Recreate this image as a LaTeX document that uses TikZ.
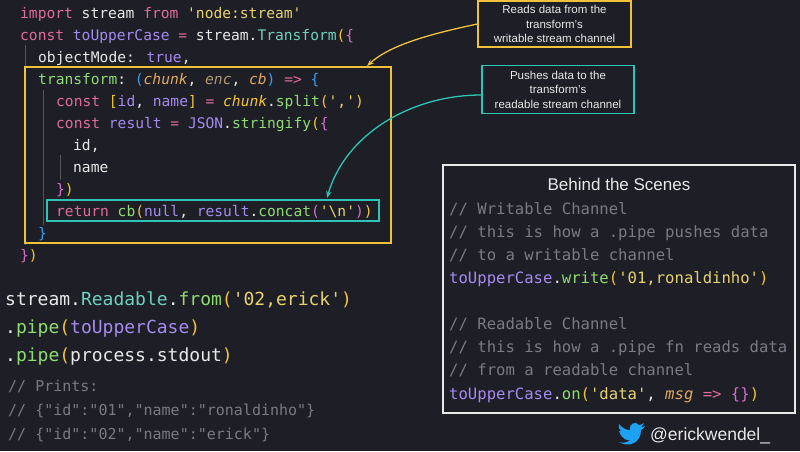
\documentclass[tikz,border=0pt]{standalone}
\usepackage{fontspec}
\setmainfont{Liberation Sans}
\newfontfamily\cf{DejaVu Sans Mono}
\usetikzlibrary{arrows.meta}
\definecolor{bg}{HTML}{1E1E26}
\definecolor{kw}{HTML}{E06C9A}
\definecolor{st}{HTML}{E6D36F}
\definecolor{vr}{HTML}{A58BF0}
\definecolor{fn}{HTML}{8FDC73}
\definecolor{tl}{HTML}{6FD0C0}
\definecolor{cm}{HTML}{7A7A85}
\definecolor{wt}{HTML}{E8E8E8}
\definecolor{ybox}{HTML}{F0C23A}
\definecolor{cbox}{HTML}{2EC4B6}
\definecolor{by}{HTML}{F2C53D}
\definecolor{bp}{HTML}{D46FC8}
\definecolor{bb}{HTML}{3D9BF0}
\definecolor{pa}{HTML}{E0A860}
\definecolor{pe}{HTML}{B09A78}
\definecolor{tw}{HTML}{1DA1F2}
\newcommand\K[1]{\textcolor{kw}{#1}}
\newcommand\Sg[1]{\textcolor{st}{#1}}
\newcommand\V[1]{\textcolor{vr}{#1}}
\newcommand\F[1]{\textcolor{fn}{#1}}
\newcommand\T[1]{\textcolor{tl}{#1}}
\newcommand\Y[1]{\textcolor{by}{#1}}
\newcommand\Pk[1]{\textcolor{bp}{#1}}
\newcommand\Bl[1]{\textcolor{bb}{#1}}
\newcommand\q{{\char39}}
\begin{document}
\begin{tikzpicture}[x=1pt,y=-1pt,
  top/.style={anchor=base west,inner sep=0pt,text=wt,font=\cf\fontsize{14.6}{16}\selectfont},
  big/.style={anchor=base west,inner sep=0pt,text=wt,font=\cf\fontsize{18}{20}\selectfont},
  cmt/.style={anchor=base west,inner sep=0pt,text=cm,font=\cf\fontsize{15}{17}\selectfont},
  rbx/.style={anchor=base west,inner sep=0pt,text=wt,font=\cf\fontsize{15.6}{17}\selectfont},
  lab/.style={draw=#1,line width=1.2pt,fill=bg,text=wt,align=center,font=\fontsize{11.5}{14.5}\selectfont,inner sep=2pt},
  guide/.style={draw=white!25!bg,line width=0.6pt}]
\fill[bg] (0,0) rectangle (800,451);
\useasboundingbox (0,0) rectangle (800,451);
% indent guides
\draw[guide] (25,45) -- (25,245);
\draw[guide] (43,90) -- (43,225);
\draw[guide] (60,155) -- (60,180);
% boxes
\draw[ybox,line width=1.5pt] (25,67) rectangle (391,243);
\draw[cbox,line width=1.5pt] (47,200) rectangle (379,221);
% top code
\node[top] (l1) at (20,18) {\K{import} stream \K{from} \Sg{\q node:stream\q}};
\node[top] (l2) at (20,40) {\K{const} \V{toUpperCase} \K{=} stream.\T{Transform}\Y{(}\Pk{\{}};
\node[top] (l3) at (38,62) {objectMode: \V{true},};
\node[top] (l4) at (38,84) {\F{transform}:\ \Bl{(}\textcolor{pa}{\itshape chunk}, \textcolor{pe}{\itshape enc}, \textcolor{pa}{\itshape cb}\Bl{)} \K{=>} \Bl{\{}};
\node[top] (l5) at (56,106) {\K{const} \Y{[}\V{id}, \V{name}\Y{]} \K{=} \textcolor{by}{\itshape chunk}.\F{split}\Y{(}\Sg{\q,\q}\Y{)}};
\node[top] (l6) at (56,128) {\K{const} \V{result} \K{=} \V{JSON}.\F{stringify}\Y{(}\Pk{\{}};
\node[top] (l7) at (73,150) {id,};
\node[top] (l8) at (73,172) {name};
\node[top] (l9) at (56,194) {\Pk{\}}\Y{)}};
\node[top] (l10) at (56,216) {\K{return} \F{cb}\Y{(}\V{null}, \V{result}.\F{concat}\Pk{(}\Sg{\q\textbackslash n\q}\Pk{)}\Y{)}};
\node[top] (l11) at (38,238) {\Bl{\}}};
\node[top] (l12) at (20,260) {\Pk{\}}\Y{)}};
% bottom left
\node[big] (b1) at (5,305) {stream.\T{Readable}.\F{from}\Y{(}\Sg{\q 02,erick\q}\Y{)}};
\node[big] (b2) at (5,333) {.\F{pipe}\Y{(}\V{toUpperCase}\Y{)}};
\node[big] (b3) at (5,361) {.\F{pipe}\Y{(}process.stdout\Y{)}};
\node[cmt] (c1) at (8,391) {// Prints:};
\node[cmt] (c2) at (8,415) {// \{"id":"01","name":"ronaldinho"\}};
\node[cmt] (c3) at (8,439) {// \{"id":"02","name":"erick"\}};
% right box
\draw[wt,line width=1.3pt] (443,165) rectangle (795,413);
\node[text=wt,font=\fontsize{17}{20}\selectfont] (title) at (619,184) {Behind the Scenes};
\node[rbx,text=cm] (r1) at (449,214) {// Writable Channel};
\node[rbx,text=cm] (r2) at (449,237) {// this is how a .pipe pushes data};
\node[rbx,text=cm] (r3) at (449,260) {// to a writable channel};
\node[rbx] (r4) at (449,283) {\V{toUpperCase}.\F{write}\Y{(}\Sg{\q 01,ronaldinho\q}\Y{)}};
\node[rbx,text=cm] (r5) at (449,329) {// Readable Channel};
\node[rbx,text=cm] (r6) at (449,352) {// this is how a .pipe fn reads data};
\node[rbx,text=cm] (r7) at (449,375) {// from a readable channel};
\node[rbx] (r8) at (449,399) {\V{toUpperCase}.\F{on}\Y{(}\Sg{\q data\q}, \textcolor{pa}{\itshape msg} \K{=>} \Pk{\{\}}\Y{)}};
% labels
\node[lab=ybox,minimum width=153pt,minimum height=46pt] (ylab) at (554.5,24) {Reads data from the\\transform's\\writable stream channel};
\node[lab=cbox,minimum width=152pt,minimum height=48pt] (clab) at (558,89.5) {Pushes data to the\\transform's\\readable stream channel};
\coordinate (yt) at (367,66);
\coordinate (ct) at (327,198);
\draw[ybox,line width=1.3pt,-{Stealth[length=7pt]}] (ylab.west) .. controls (430,34) and (390,45) .. (yt);
\draw[cbox,line width=1.3pt,-{Stealth[length=7pt]}] (clab.west|-0,95) .. controls (410,95) and (345,135) .. (ct);
% twitter
\fill[tw] (619,431) .. controls (622,440) and (628,441) .. (631,440)
  .. controls (626,443) and (622,443) .. (619,442)
  .. controls (629,448) and (641,443) .. (641,430)
  .. controls (643,429) and (644,428) .. (645,426)
  .. controls (643,427) and (642,427) .. (641,427)
  .. controls (642,426) and (643,425) .. (644,423)
  .. controls (642,424) and (641,425) .. (639,425)
  .. controls (636,421) and (629,423) .. (630,430)
  .. controls (626,430) and (622,428) .. (619,424)
  .. controls (618,427) and (619,429) .. (621,431)
  -- cycle;
\node[anchor=west,inner sep=0pt,text=wt,font=\fontsize{17.5}{20}\selectfont] (tw) at (650,436) {@erickwendel\_};
\end{tikzpicture}
\end{document}
